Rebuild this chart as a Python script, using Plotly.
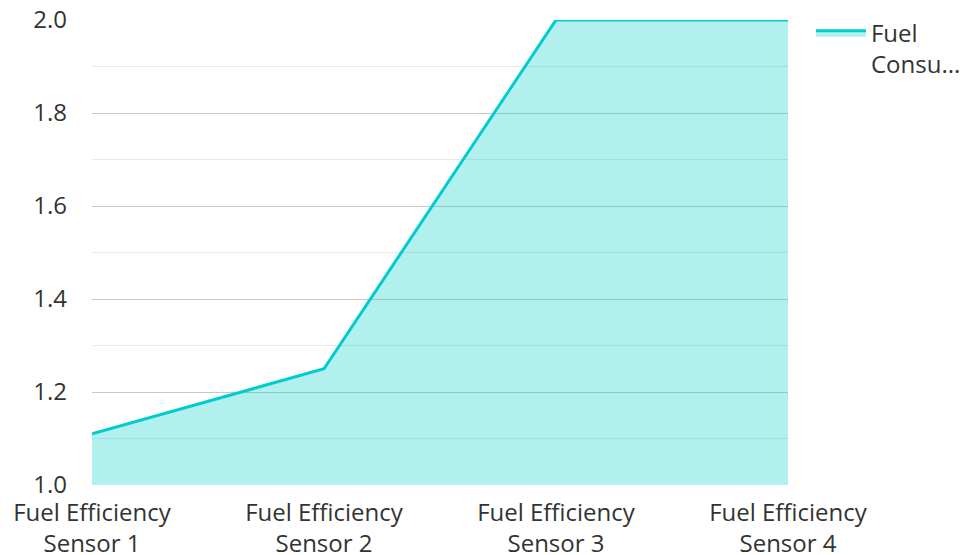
import plotly.graph_objects as go

categories = ["Fuel Efficiency<br>Sensor 1", "Fuel Efficiency<br>Sensor 2",
              "Fuel Efficiency<br>Sensor 3", "Fuel Efficiency<br>Sensor 4"]
values = [1.11, 1.25, 2.0, 2.0]
series_name = "Fuel<br>Consu..."

fig = go.Figure()
fig.add_trace(go.Scatter(
    x=categories, y=values, mode="lines", name=series_name,
    line=dict(color="#00CCCC", width=3),
    fill="tozeroy", fillcolor="rgba(0,204,204,0.3)",
    showlegend=True,
))

fig.update_layout(
    width=964, height=555,
    margin=dict(l=92, r=176, t=20, b=70, autoexpand=False),
    paper_bgcolor="white", plot_bgcolor="white",
    font=dict(family="Open Sans", size=24, color="#333333"),
    showlegend=True,
    legend=dict(x=1.033, y=1.02, xanchor="left", yanchor="top",
                font=dict(size=24, color="#333333"), itemwidth=50,
                valign="top", tracegroupgap=0),
    xaxis=dict(range=[0, 3], showgrid=False, zeroline=False, showline=False,
               ticks="", tickfont=dict(size=24), automargin=False,
               ticklabelstandoff=11, ticklabeloverflow="allow"),
    yaxis=dict(range=[1.0, 2.0], dtick=0.2, tick0=1.0, tickformat=".1f",
               showgrid=True, gridcolor="#c8c8c8", gridwidth=1,
               zeroline=False, showline=False, ticks="",
               minor=dict(dtick=0.1, showgrid=True, gridcolor="#e8e8e8"),
               tickfont=dict(size=24), ticklabelstandoff=24, automargin=False,
               ticklabeloverflow="allow"),
)

fig.write_html("out.html", config={"displayModeBar": False},
               post_script="document.body.style.margin='0';")
